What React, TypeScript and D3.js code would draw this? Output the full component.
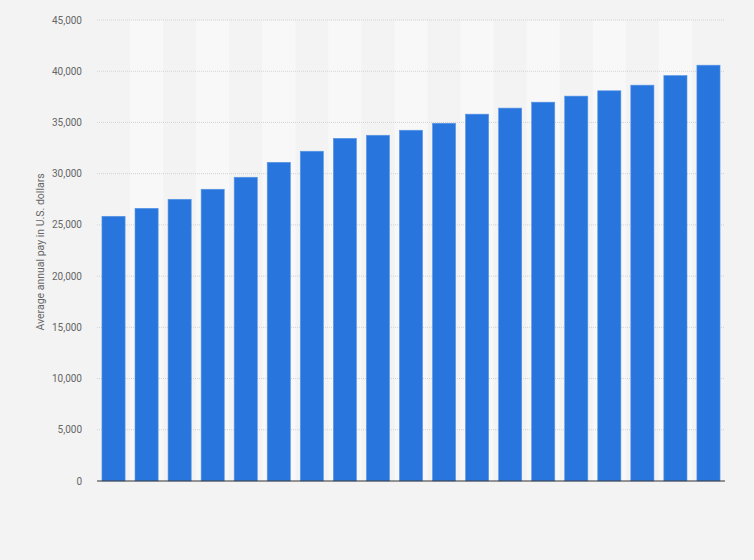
import React from "react";
import * as d3 from "d3";

const categories = [
  "2000", "2001", "2002", "2003", "2004", "2005", "2006", "2007", "2008", "2009",
  "2010", "2011", "2012", "2013", "2014", "2015", "2016", "2017", "2018",
];
const values = [
  25840, 26620, 27500, 28480, 29650, 31110, 32190, 33450, 33750, 34240,
  34920, 35810, 36400, 36980, 37570, 38090, 38640, 39580, 40590,
];
const yTicks = [0, 5000, 10000, 15000, 20000, 25000, 30000, 35000, 40000, 45000];
const yTitle = "Average annual pay in U.S. dollars";

const W = 754;
const H = 560;
const left = 97;
const right = 725;
const top = 20;
const bottom = 481;

export default function App() {
  const x = d3.scaleBand<string>().domain(categories).range([left, right]).paddingInner(0.3).paddingOuter(0.15);
  const band = d3.scaleBand<string>().domain(categories).range([left, right]).padding(0);
  const y = d3.scaleLinear().domain([0, 45000]).range([bottom, top]);
  const fmt = d3.format(",");
  return (
    <div style={{ position: "absolute", left: 0, top: 0 }}>
      <svg width={W} height={H} style={{ display: "block", fontFamily: "Roboto, 'Liberation Sans', Arial, sans-serif" }}>
        <rect x={0} y={0} width={W} height={H} fill="#f3f3f3" />
        {categories.map((c, i) =>
          i % 2 === 1 ? (
            <rect key={"s" + c} x={band(c)} y={top} width={band.bandwidth()} height={bottom - top} fill="#f8f8f8" />
          ) : null
        )}
        {yTicks.map((t) => (
          <g key={t}>
            {t > 0 && (
              <line x1={left} x2={right} y1={y(t)} y2={y(t)} stroke="#d2d2d2" strokeWidth={1} strokeDasharray="1,1" />
            )}
            <text x={82} y={y(t)} dy="0.35em" textAnchor="end" fontSize={10} fill="#666">
              {fmt(t)}
            </text>
          </g>
        ))}
        {categories.map((c, i) => (
          <rect
            key={c}
            x={x(c)}
            y={y(values[i])}
            width={x.bandwidth()}
            height={y(0) - y(values[i])}
            fill="#2876dd"
            stroke="#5b97e6"
            strokeWidth={0.6}
          />
        ))}
        <line x1={left} x2={right} y1={bottom} y2={bottom} stroke="#333" strokeWidth={1.2} />
        <text
          transform={`translate(44,252) rotate(-90)`}
          textAnchor="middle"
          fontSize={10.5}
          fill="#666"
        >
          {yTitle}
        </text>
      </svg>
    </div>
  );
}
